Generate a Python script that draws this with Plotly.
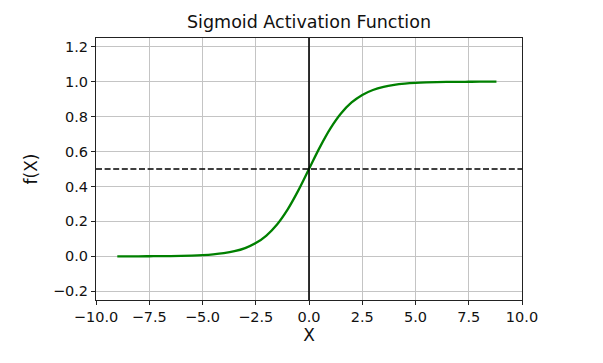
import plotly.graph_objects as go

# Points
x_vals = [-9.0, -8.5, -8.0, -7.5, -7.0, -6.5, -6.0, -5.5, -5.0, -4.5, -4.0, -3.5,
          -3.0, -2.5, -2.0, -1.5, -1.0, -0.5, 0.0, 0.5, 1.0, 1.5, 2.0, 2.5, 3.0,
          3.5, 4.0, 4.5, 5.0, 5.5, 6.0, 6.5, 7.0, 7.5, 8.0, 8.5, 8.8]
y_vals = [0.0001, 0.0002, 0.0003, 0.0006, 0.0009, 0.0015, 0.0025, 0.0041, 0.0067,
          0.0110, 0.0180, 0.0293, 0.0474, 0.0759, 0.1192, 0.1824, 0.2689, 0.3775,
          0.5000, 0.6225, 0.7311, 0.8176, 0.8808, 0.9241, 0.9526, 0.9707, 0.9820,
          0.9890, 0.9933, 0.9959, 0.9975, 0.9985, 0.9991, 0.9994, 0.9997, 0.9998,
          0.9998]
x_ticks = [-10.0, -7.5, -5.0, -2.5, 0.0, 2.5, 5.0, 7.5, 10.0]
y_ticks = [-0.2, 0.0, 0.2, 0.4, 0.6, 0.8, 1.0, 1.2]
threshold = 0.5
x_range = [-10, 10]
y_range = [-0.25, 1.25]

font = "DejaVu Sans, Liberation Sans, sans-serif"

fig = go.Figure()
fig.add_trace(go.Scatter(x=x_vals, y=y_vals, mode="lines",
                         line=dict(color="#008000", width=2.3, shape="spline"),
                         showlegend=False, hoverinfo="x+y"))

fig.add_shape(type="line", xref="x", yref="y", x0=x_range[0], x1=x_range[1],
              y0=threshold, y1=threshold,
              line=dict(color="black", width=1.6, dash="6px,2.6px"), layer="above")
fig.add_shape(type="line", xref="x", yref="y", x0=0, x1=0,
              y0=y_range[0], y1=y_range[1],
              line=dict(color="black", width=1.6), layer="above")

axis_common = dict(showline=True, linecolor="#222222", linewidth=1, mirror=True,
                   ticks="outside", ticklen=4, tickwidth=1, tickcolor="#222222",
                   showgrid=True, gridcolor="#c4c4c4", gridwidth=1, zeroline=False,
                   tickfont=dict(family=font, size=14.5, color="#111111"),
                   tickformat=".1f")

fig.update_layout(
    width=603, height=363,
    margin=dict(l=88, r=89, t=30, b=71),
    paper_bgcolor="white", plot_bgcolor="white",
    title=dict(text="Sigmoid Activation Function", x=0.5, xanchor="center",
               xref="paper", y=1 - 14 / 363, yanchor="middle",
               font=dict(family=font, size=17.5, color="#111111")),
    xaxis=dict(range=x_range, tickvals=x_ticks,
               title=dict(text="X", font=dict(family=font, size=17, color="#111111"),
                          standoff=4),
               **axis_common),
    yaxis=dict(range=y_range, tickvals=y_ticks,
               title=dict(text="f(X)", font=dict(family=font, size=17, color="#111111"),
                          standoff=10),
               **axis_common),
)

fig.write_html("out.html")
